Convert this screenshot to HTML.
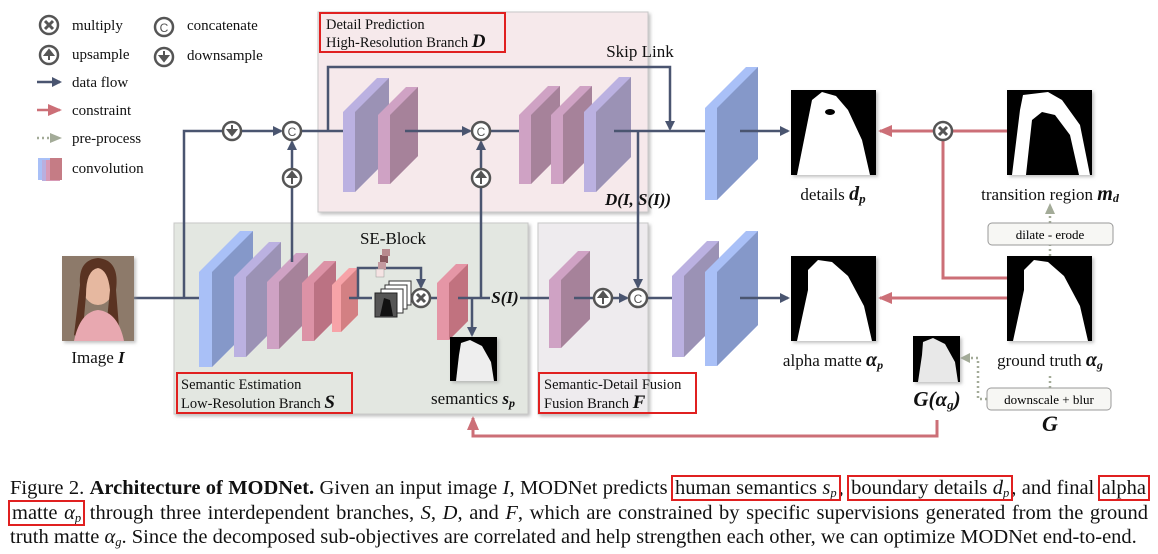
<!DOCTYPE html>
<html><head><meta charset="utf-8"><style>
body{margin:0;width:1158px;height:554px;background:#fff;position:relative;overflow:hidden;font-family:"Liberation Serif",serif;}
svg{position:absolute;left:0;top:0}
.cap{position:absolute;left:10px;width:1138px;font-size:20.5px;line-height:22px;height:22px;white-space:nowrap;color:#111;text-align:justify;text-align-last:justify;}
.cap sub{font-size:12.5px;line-height:0;vertical-align:-3px}
.rb{outline:2px solid #e02020;outline-offset:0px;padding:0 2px;}
</style></head><body>
<svg width="1158" height="460" viewBox="0 0 1158 460" font-family="Liberation Serif, serif">
<defs>
<marker id="ad" markerWidth="10" markerHeight="10" refX="8" refY="5" orient="auto" markerUnits="userSpaceOnUse"><path d="M0,0 L10,5 L0,10 z" fill="#4a5570"/></marker>
<marker id="ar" markerWidth="14" markerHeight="12" refX="12" refY="6" orient="auto" markerUnits="userSpaceOnUse"><path d="M0,0 L14,6 L0,12 z" fill="#cc6f77"/></marker>
<filter id="sh"><feDropShadow dx="2" dy="2" stdDeviation="1.5" flood-color="#999" flood-opacity="0.6"/></filter>
</defs>
<rect x="318" y="12" width="330" height="200" fill="#f6e9eb" stroke="#c8c8c8" filter="url(#sh)"/>
<rect x="174" y="223" width="354" height="191" fill="#e3e7e1" stroke="#c8c8c8" filter="url(#sh)"/>
<rect x="538" y="223" width="110" height="191" fill="#eeebee" stroke="#c8c8c8" filter="url(#sh)"/>

<g font-size="15" fill="#111">
<circle cx="49" cy="25" r="9" fill="#fff" stroke="#555" stroke-width="2.5"/><path d="M45,21 L53,29 M53,21 L45,29" stroke="#555" stroke-width="3"/>
<text x="72" y="30">multiply</text>
<circle cx="49" cy="55" r="9" fill="#fff" stroke="#555" stroke-width="2.5"/><path d="M49,60 L49,52 M45,55 L49,50 L53,55z" stroke="#555" stroke-width="2" fill="#555"/>
<text x="72" y="59">upsample</text>
<path d="M37,82 L60,82" stroke="#4a5570" stroke-width="2.5" marker-end="url(#ad)"/><text x="72" y="87">data flow</text>
<path d="M37,110 L60,110" stroke="#cc6f77" stroke-width="2.5" marker-end="url(#ar)"/><text x="72" y="115">constraint</text>
<path d="M37,138 L50,138" stroke="#a3ab98" stroke-width="2.5" stroke-dasharray="2,3"/><path d="M50,133 L62,138 L50,143z" fill="#a3ab98"/><text x="72" y="143">pre-process</text>
<rect x="38" y="158" width="14" height="22" fill="#a9c0f7"/><rect x="42" y="160" width="14" height="21" fill="#b9afdf"/><rect x="46" y="160" width="14" height="21" fill="#d89ab6"/><rect x="50" y="158" width="12" height="22" fill="#c57c85"/>
<text x="72" y="173">convolution</text>
<circle cx="164" cy="27" r="9" fill="#fff" stroke="#555" stroke-width="2.5"/><text x="164" y="32" font-family="Liberation Sans" font-size="12" text-anchor="middle" fill="#555">C</text>
<text x="187" y="30">concatenate</text>
<circle cx="164" cy="57" r="9" fill="#fff" stroke="#555" stroke-width="2.5"/><path d="M164,51 L164,58 M160,56 L164,61 L168,56z" stroke="#555" stroke-width="2" fill="#555"/>
<text x="187" y="60">downsample</text>
</g>

<g>
<polygon points="199,272 240,231 253,231 253,326 212,367 199,367" fill="#a9c0f7"/><polygon points="212,272 253,231 253,326 212,367" fill="#8598c9"/>
<polygon points="234,277 269,242 281,242 281,322 246,357 234,357" fill="#bbb1e1"/><polygon points="246,277 281,242 281,322 246,357" fill="#9b92b5"/>
<polygon points="267,282 296,253 308,253 308,320 279,349 267,349" fill="#cfa2c4"/><polygon points="279,282 308,253 308,320 279,349" fill="#a6829a"/>
<polygon points="302,283 324,261 336,261 336,319 314,341 302,341" fill="#dc92a6"/><polygon points="314,283 336,261 336,319 314,341" fill="#bb7283"/>
<polygon points="332,285 349,268 358,268 358,315 341,332 332,332" fill="#f7a3a8"/><polygon points="341,285 358,268 358,315 341,332" fill="#d38083"/>
<polygon points="437,283 456,264 468,264 468,321 449,340 437,340" fill="#e596a6"/><polygon points="449,283 468,264 468,321 449,340" fill="#c1727f"/>
<polygon points="343,112 377,78 389,78 389,158 355,192 343,192" fill="#bbb1e1"/><polygon points="355,112 389,78 389,158 355,192" fill="#9b92b5"/>
<polygon points="378,115 406,87 418,87 418,156 390,184 378,184" fill="#cfa2c4"/><polygon points="390,115 418,87 418,156 390,184" fill="#a6829a"/>
<polygon points="519,115 548,86 560,86 560,155 531,184 519,184" fill="#cfa2c4"/><polygon points="531,115 560,86 560,155 531,184" fill="#a6829a"/>
<polygon points="551,115 580,86 592,86 592,155 563,184 551,184" fill="#cfa2c4"/><polygon points="563,115 592,86 592,155 563,184" fill="#a6829a"/>
<polygon points="584,112 619,77 631,77 631,157 596,192 584,192" fill="#bbb1e1"/><polygon points="596,112 631,77 631,157 596,192" fill="#9b92b5"/>
<polygon points="705,108 746,67 758,67 758,159 717,200 705,200" fill="#a9c0f7"/><polygon points="717,108 758,67 758,159 717,200" fill="#8598c9"/>
<polygon points="549,280 578,251 590,251 590,319 561,348 549,348" fill="#cfa2c4"/><polygon points="561,280 590,251 590,319 561,348" fill="#a6829a"/>
<polygon points="672,276 707,241 719,241 719,322 684,357 672,357" fill="#bbb1e1"/><polygon points="684,276 719,241 719,322 684,357" fill="#9b92b5"/>
<polygon points="705,272 746,231 758,231 758,325 717,366 705,366" fill="#a9c0f7"/><polygon points="717,272 758,231 758,325 717,366" fill="#8598c9"/>
</g>

<g stroke="#4a5570" stroke-width="2.5" fill="none">
<path d="M134,298 L199,298"/>
<path d="M184,298 L184,131 L223,131"/>
<path d="M241,131 L281,131" marker-end="url(#ad)"/>
<path d="M292,262 L292,187"/><path d="M292,169 L292,142" marker-end="url(#ad)"/>
<path d="M301,131 L343,131"/>
<path d="M328,131 L328,67 L670,67 L670,129" marker-end="url(#ad)"/>
<path d="M405,131 L470,131" marker-end="url(#ad)"/>
<path d="M490,131 L519,131"/>
<path d="M614,131 L705,131"/>
<path d="M740,131 L788,131" marker-end="url(#ad)"/>
<path d="M638,131 L638,287" marker-end="url(#ad)"/>
<path d="M481,298 L481,187"/><path d="M481,169 L481,142" marker-end="url(#ad)"/>
<path d="M349,298 L372,298"/>
<path d="M358,298 L358,268 L421,268 L421,287" marker-end="url(#ad)"/>
<path d="M430,298 L437,298"/>
<path d="M458,298 L490,298"/>
<path d="M472,298 L472,335" marker-end="url(#ad)"/>
<path d="M520,298 L549,298"/>
<path d="M574,298 L594,298"/>
<path d="M612,298 L627,298" marker-end="url(#ad)"/>
<path d="M647,298 L672,298"/>
<path d="M740,298 L788,298" marker-end="url(#ad)"/>
</g>

<g>
<rect x="380" y="255" width="8" height="8" fill="#8a5a60"/><rect x="378" y="262" width="8" height="8" fill="#c49aa0"/><rect x="376" y="269" width="8" height="8" fill="#f5e3e3" stroke="#999" stroke-width="0.5"/>
<rect x="382" y="249" width="8" height="7" fill="#b88a8e"/>
<rect x="389" y="281" width="22" height="24" fill="#fff" stroke="#333"/><rect x="385" y="285" width="22" height="24" fill="#fff" stroke="#333"/><rect x="381" y="289" width="22" height="24" fill="#fff" stroke="#333"/>
<rect x="375" y="293" width="22" height="24" fill="#555" stroke="#222"/><path d="M380,316 L384,298 L390,300 L393,316z" fill="#111"/>
</g>

<g fill="#fff" stroke="#555" stroke-width="2.5">
<circle cx="232" cy="131" r="9"/><circle cx="292" cy="131" r="9"/><circle cx="292" cy="178" r="9"/>
<circle cx="481" cy="131" r="9"/><circle cx="481" cy="178" r="9"/>
<circle cx="421" cy="298" r="9"/><circle cx="603" cy="298" r="9"/><circle cx="638" cy="298" r="9"/>
</g>
<g fill="#555" stroke="#555" stroke-width="2">
<path d="M232,125 L232,132 M228,130 L232,135 L236,130z"/>
<path d="M292,184 L292,176 M288,177 L292,172 L296,177z"/>
<path d="M481,184 L481,176 M477,177 L481,172 L485,177z"/>
<path d="M603,304 L603,296 M599,297 L603,292 L607,297z"/>
<path d="M417,294 L425,302 M425,294 L417,302" stroke-width="3"/>
</g>
<g font-family="Liberation Sans" font-size="12" fill="#555" text-anchor="middle">
<text x="292" y="136">C</text><text x="481" y="136">C</text><text x="638" y="303">C</text>
</g>

<g stroke="#cc6f77" stroke-width="3" fill="none">
<path d="M1007,131 L952,131"/>
<path d="M934,131 L880,131" marker-end="url(#ar)"/>
<path d="M943,140 L943,278 L1007,278"/>
<path d="M1007,298 L880,298" marker-end="url(#ar)"/>
<path d="M937,420 L937,436 L473,436 L473,418" marker-end="url(#ar)"/>
</g>
<circle cx="943" cy="131" r="9" fill="#fff" stroke="#555" stroke-width="2.5"/><path d="M939,127 L947,135 M947,127 L939,135" stroke="#555" stroke-width="3"/>

<g stroke="#a3ab98" stroke-width="2.5" fill="none" stroke-dasharray="2,3">
<path d="M1050,256 L1050,245"/><path d="M1050,223 L1050,212"/>
<path d="M1050,388 L1050,375"/>
<path d="M987,399 L978,399 L978,358 L968,358"/>
</g>
<path d="M1045,214 L1050,203 L1055,214z" fill="#a3ab98"/>
<path d="M970,353 L960,358 L970,363z" fill="#a3ab98"/>
<rect x="988" y="223" width="125" height="22" rx="4" fill="#f7f7f4" stroke="#999"/>
<text x="1050" y="239" text-anchor="middle" font-size="13">dilate - erode</text>
<rect x="987" y="388" width="124" height="22" rx="4" fill="#f7f7f4" stroke="#999"/>
<text x="1049" y="404" text-anchor="middle" font-size="13">downscale + blur</text>

<g filter="url(#sh)">
<rect x="791" y="90" width="85" height="85" fill="#000"/>
<rect x="791" y="256" width="85" height="85" fill="#000"/>
<rect x="1007" y="90" width="85" height="85" fill="#000"/>
<rect x="1007" y="256" width="85" height="85" fill="#000"/>
<rect x="913" y="336" width="47" height="46" fill="#000"/>
<rect x="450" y="337" width="47" height="44" fill="#000"/>
<rect x="62" y="256" width="72" height="85" fill="#8d7a6a"/>
</g>
<path d="M797,175 L808,120 L812,100 L822,92 L836,96 L848,110 L862,140 L870,175z" fill="#fff"/>
<ellipse cx="830" cy="112" rx="5" ry="3" fill="#000"/>
<path d="M797,341 L808,290 L808,270 L818,260 L832,262 L848,276 L864,306 L872,341z" fill="#fff"/>
<path d="M1013,341 L1024,290 L1024,270 L1034,260 L1048,262 L1064,276 L1080,306 L1088,341z" fill="#fff"/>
<path d="M1012,175 L1020,110 L1023,95 L1048,92 L1062,100 L1080,125 L1090,175 L1079,175 L1070,135 L1055,115 L1042,112 L1032,120 L1026,175z" fill="#fff"/>
<path d="M918,382 L922,355 L923,342 L933,338 L945,344 L955,362 L958,382z" fill="#e8e8e8"/>
<path d="M456,381 L459,355 L461,343 L470,340 L482,346 L491,362 L494,381z" fill="#eee"/>
<ellipse cx="98" cy="285" rx="16" ry="20" fill="#e6b8a0"/>
<path d="M80,285 Q78,260 98,258 Q120,260 116,290 L120,340 L106,330 L110,290 Q108,270 98,268 Q86,270 86,295 L82,340 L74,335z" fill="#5a3322"/>
<path d="M74,341 Q80,312 98,310 Q118,312 124,341z" fill="#e8a8b0"/>

<g font-size="17" fill="#111">
<text x="98" y="363" text-anchor="middle">Image <tspan font-weight="bold" font-style="italic">I</tspan></text>
<text x="393" y="244" text-anchor="middle">SE-Block</text>
<text x="640" y="57" text-anchor="middle">Skip Link</text>
<text x="638" y="205" text-anchor="middle" font-weight="bold" font-style="italic">D(I, S(I))</text>
<text x="505" y="303" text-anchor="middle" font-weight="bold" font-style="italic">S(I)</text>
<text x="473" y="404" text-anchor="middle">semantics <tspan font-weight="bold" font-style="italic">s<tspan font-size="12" dy="3">p</tspan></tspan></text>
<text x="833" y="200" text-anchor="middle">details <tspan font-weight="bold" font-style="italic" font-size="20">d<tspan font-size="13" dy="3">p</tspan></tspan></text>
<text x="1050" y="200" text-anchor="middle">transition region <tspan font-weight="bold" font-style="italic" font-size="20">m<tspan font-size="12" dy="2">d</tspan></tspan></text>
<text x="833" y="366" text-anchor="middle">alpha matte <tspan font-weight="bold" font-style="italic" font-size="20">α<tspan font-size="12" dy="3">p</tspan></tspan></text>
<text x="1050" y="366" text-anchor="middle">ground truth <tspan font-weight="bold" font-style="italic" font-size="20">α<tspan font-size="12" dy="3">g</tspan></tspan></text>
<text x="937" y="406" text-anchor="middle" font-weight="bold" font-style="italic" font-size="21">G(α<tspan font-size="13" dy="3">g</tspan><tspan dy="-3">)</tspan></text>
<text x="1050" y="431" text-anchor="middle" font-weight="bold" font-style="italic" font-size="22">G</text>
</g>
<g fill="none" stroke="#e02020" stroke-width="2">
<rect x="320" y="13" width="185" height="39"/>
<rect x="177" y="373" width="175" height="40"/>
<rect x="539" y="373" width="157" height="40"/>
</g>
<g font-size="14.5" fill="#111">
<text x="326" y="29">Detail Prediction</text>
<text x="326" y="47">High-Resolution Branch <tspan font-weight="bold" font-style="italic" font-size="19">D</tspan></text>
<text x="181" y="389">Semantic Estimation</text>
<text x="181" y="408">Low-Resolution Branch <tspan font-weight="bold" font-style="italic" font-size="19">S</tspan></text>
<text x="544" y="389">Semantic-Detail Fusion</text>
<text x="544" y="408">Fusion Branch <tspan font-weight="bold" font-style="italic" font-size="19">F</tspan></text>
</g>
</svg>

<div class="cap" style="top:477px">Figure 2. <b>Architecture of MODNet.</b> Given an input image <i>I</i>, MODNet predicts <span class="rb">human semantics <i>s<sub>p</sub></i></span>, <span class="rb">boundary details <i>d<sub>p</sub></i></span>, and final <span class="rb">alpha</span></div>
<div class="cap" style="top:502px"><span class="rb">matte <i>α<sub>p</sub></i></span> through three interdependent branches, <i>S</i>, <i>D</i>, and <i>F</i>, which are constrained by specific supervisions generated from the ground</div>
<div class="cap" style="top:526px;text-align-last:left">truth matte <i>α<sub>g</sub></i>. Since the decomposed sub-objectives are correlated and help strengthen each other, we can optimize MODNet end-to-end.</div>
</body></html>
